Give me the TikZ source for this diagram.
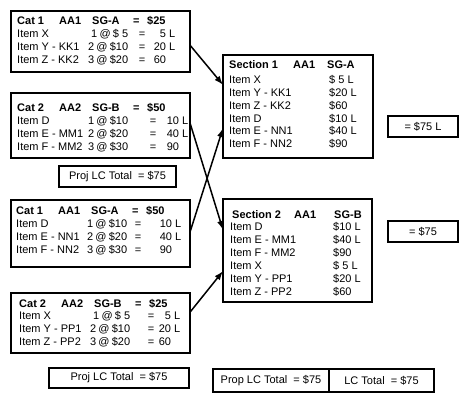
\documentclass[tikz,border=0pt]{standalone}
\usepackage{fontspec}
\setmainfont{Liberation Sans}
\usetikzlibrary{arrows.meta,positioning,calc}

\newlength{\eqpos}
\newlength{\valpos}
% header row of a Cat box
\newcommand{\hdrow}[4]{\textbf{\makebox[42pt][l]{#1}\makebox[33pt][l]{#2}\makebox[41pt][l]{#3}\makebox[14pt][l]{=}#4}}
% item row: name, qty (right at 111pt), '=' centred at \eqpos, value right at \valpos
\newcommand{\itrow}[3]{\rlap{#1}\rlap{\makebox[111pt][r]{#2}}\rlap{\makebox[2\eqpos]{=}}\makebox[\valpos][r]{#3}}
% quantity at a price
\newcommand{\qty}[2]{#1\hspace{.2em}@\hspace{.2em}\$#2}
% row of a Section box
\newcommand{\secrow}[2]{\makebox[\valpos][l]{#1}#2}
\newcommand{\noL}{\phantom{ L}}

\begin{document}
\begin{tikzpicture}[x=1pt, y=-1pt]
\tikzstyle{box}=[rectangle,
                 draw=black,
                 line width=1.5pt,
                 inner sep=0pt,
                 outer sep=0pt,
                 anchor=north west]
\tikzstyle{txt}=[anchor=base west,
                 inner sep=0pt,
                 font=\fontsize{11}{12.9}\selectfont]
\tikzstyle{sum}=[rectangle,
                 draw=black,
                 line width=1.5pt,
                 outer sep=0pt,
                 font=\fontsize{11}{12.9}\selectfont]
\tikzstyle{feed}=[line width=1.5pt, -{Latex[length=9pt,width=6.5pt]}]
\tikzset{cols/.style 2 args={execute at begin node={\setlength{\eqpos}{#1}\setlength{\valpos}{#2}}}}

\useasboundingbox (0,0) rectangle (474,409);

% the four Cat boxes
\node[box, minimum width=179pt, minimum height=61pt] (cat1) at (11,11) {};
\node[box, minimum width=179pt, minimum height=65pt] (cat2) at (11,93) {};
\node[box, minimum width=179pt, minimum height=67pt] (cat3) at (11,200) {};
\node[box, minimum width=179pt, minimum height=60pt] (cat4) at (11,293) {};

\node[txt, cols={125pt}{158pt}] (cat1t) at ($(cat1.north west)+(6,14)$)
  {\begin{tabular}[t]{@{}l@{}}
   \hdrow{Cat 1}{AA1}{SG-A}{\$25}\\
   \itrow{Item X}{\qty{1}{~5}}{5 L}\\
   \itrow{Item Y - KK1}{\qty{2}{10}}{20 L}\\
   \itrow{Item Z - KK2}{\qty{3}{20}}{60\noL}
   \end{tabular}};
\node[txt, cols={136pt}{171pt}] (cat2t) at ($(cat2.north west)+(6,18.5)$)
  {\begin{tabular}[t]{@{}l@{}}
   \hdrow{Cat 2}{AA2}{SG-B}{\$50}\\
   \itrow{Item D}{\qty{1}{10}}{10 L}\\
   \itrow{Item E - MM1}{\qty{2}{20}}{40 L}\\
   \itrow{Item F - MM2}{\qty{3}{30}}{90\noL}
   \end{tabular}};
\node[txt, cols={122pt}{165pt}] (cat3t) at ($(cat3.north west)+(5,14.5)$)
  {\begin{tabular}[t]{@{}l@{}}
   \hdrow{Cat 1}{AA1}{SG-A}{\$50}\\
   \itrow{Item D}{\qty{1}{10}}{10 L}\\
   \itrow{Item E - NN1}{\qty{2}{20}}{40 L}\\
   \itrow{Item F - NN2}{\qty{3}{30}}{90\noL}
   \end{tabular}};
\node[txt, cols={132pt}{161pt}] (cat4t) at ($(cat4.north west)+(8,14)$)
  {\begin{tabular}[t]{@{}l@{}}
   \hdrow{Cat 2}{AA2}{SG-B}{\$25}\\
   \itrow{Item X}{\qty{1}{~5}}{5 L}\\
   \itrow{Item Y - PP1}{\qty{2}{10}}{20 L}\\
   \itrow{Item Z - PP2}{\qty{3}{20}}{60\noL}
   \end{tabular}};

% the two Section boxes
\node[box, minimum width=150pt, minimum height=103pt] (sec1) at (223,55) {};
\node[box, minimum width=149pt, minimum height=103pt] (sec2) at (223,199) {};

\node[txt, cols={0pt}{100pt}] (sec1t) at ($(sec1.north west)+(6,14)$)
  {\begin{tabular}[t]{@{}l@{}}
   \textbf{\makebox[64pt][l]{Section 1}\makebox[34pt][l]{AA1}SG-A}\\[1.5pt]
   \secrow{Item X}{\$~5 L}\\
   \secrow{Item Y - KK1}{\$20 L}\\
   \secrow{Item Z - KK2}{\$60}\\
   \secrow{Item D}{\$10 L}\\
   \secrow{Item E - NN1}{\$40 L}\\
   \secrow{Item F - NN2}{\$90}
   \end{tabular}};
\node[txt, cols={0pt}{103pt}] (sec2t) at ($(sec2.north west)+(7,19)$)
  {\begin{tabular}[t]{@{}l@{}}
   \textbf{\makebox[64pt][l]{\hspace{2pt}Section 2}\makebox[40pt][l]{AA1}SG-B}\\
   \secrow{Item D}{\$10 L}\\
   \secrow{Item E - MM1}{\$40 L}\\
   \secrow{Item F - MM2}{\$90}\\
   \secrow{Item X}{\$~5 L}\\
   \secrow{Item Y - PP1}{\$20 L}\\
   \secrow{Item Z - PP2}{\$60}
   \end{tabular}};

% totals
\node[sum, minimum width=117pt, minimum height=21pt] (proj1) at (117.5,176.5) {Proj LC Total~ = \$75};
\node[sum, minimum width=140pt, minimum height=20pt] (proj2) at (119,378) {Proj LC Total~ = \$75};
\node[sum, minimum width=70pt, minimum height=21pt] (tot1) at (423,126.5) {= \$75 L};
\node[sum, minimum width=70pt, minimum height=21pt] (tot2) at (423,231.5) {= \$75};
\node[sum, minimum width=116pt, minimum height=23pt] (prop) at (271,380.5) {Prop LC Total~ = \$75};
\node[sum, minimum width=105pt, minimum height=23pt, right=0pt of prop] (lc) {LC Total~ = \$75};

% feeds into the sections
\draw[feed] ($(cat1.north east)!.56!(cat1.south east)$) -- ($(sec1.north west)!.29!(sec1.south west)$);
\draw[feed] ($(cat2.north east)!.46!(cat2.south east)$) -- ($(sec2.north west)!.30!(sec2.south west)$);
\draw[feed] ($(cat3.north east)!.48!(cat3.south east)$) -- ($(sec1.north west)!.71!(sec1.south west)$);
\draw[feed] ($(cat4.north east)!.32!(cat4.south east)$) -- ($(sec2.north west)!.70!(sec2.south west)$);
\end{tikzpicture}
\end{document}
